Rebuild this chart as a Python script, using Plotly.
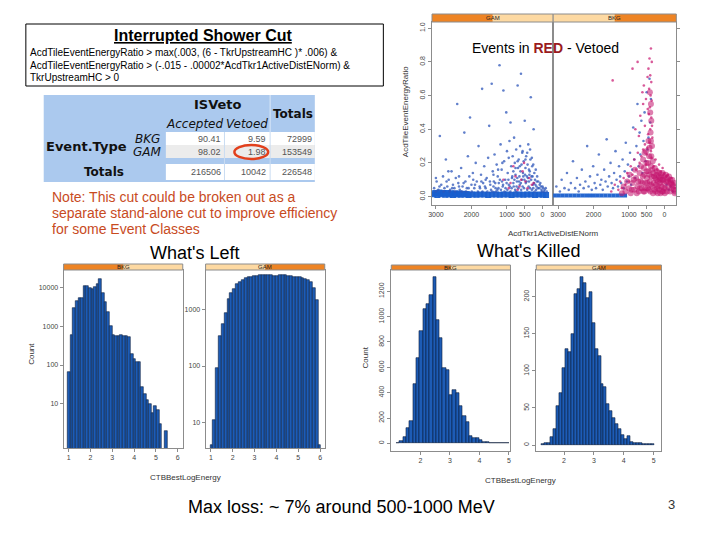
import plotly.graph_objects as go

W, H = 720, 540
def fx(x): return x / W
def fy(y): return 1 - y / H

# ---------------- data ----------------
event_types = ["BKG", "GAM"]
accepted_pct = [90.41, 98.02]
vetoed_pct = [9.59, 1.98]
type_totals = [72999, 153549]
column_totals = [216506, 10042, 226548]

cut_lines = [
    "AcdTileEventEnergyRatio > max(.003, (6 - TkrUpstreamHC )* .006) &",
    "AcdTileEventEnergyRatio > (-.015 - .00002*AcdTkr1ActiveDistENorm) &",
    "TkrUpstreamHC > 0",
]
note_lines = [
    "Note: This cut could be broken out as a",
    "separate stand-alone cut to improve efficiency",
    "for some Event Classes",
]

# "What's Left" histograms (log counts)
left_bkg_start, left_bkg_width = 0.955, 0.12
left_bkg_counts = [65, 590, 3000, 4470, 5130, 5400, 10800, 10400, 9300, 8900, 9800, 12000,
                   16600, 7200, 4200, 2240, 1020, 590, 565, 565, 590, 565, 545, 515, 192, 142,
                   122, 117, 27, 18, 13, 10, 6, 9, 7, 3, None, 2]
left_gam_start, left_gam_width = 0.97, 0.13
left_gam_counts = [4, 11, 91, 347, 570, 870, 1570, 1970, 2330, 2890, 3180, 3460, 3670, 3780,
                   3890, 4000, 4000, 4100, 4220, 4220, 4100, 4100, 4000, 4000, 4100, 4220, 4100,
                   4000, 4000, 3890, 3890, 3780, 3670, 3560, 3460, 3100, 2500, 1530, 4]

# "What's Killed" histograms
killed_bkg_start, killed_bkg_width = 1.18, 0.1125
killed_bkg_counts = [5, 18, 53, 118, 176, 468, 676, 887, 1061, 1097, 1171, 1316, 974, 834, 597,
                     579, 382, 421, 395, 297, 216, 171, 61, 45, 39, 26, 13, 8, 5, 5, 4, 4, 3, 2]
killed_gam_start, killed_gam_width = 1.23, 0.10
killed_gam_counts = [1, 3, 3, 11, 22, 52, 70, 104, 129, 125, 150, 204, 211, 227, 218, 198, 207,
                     164, 129, 120, 82, 78, 55, 46, 36, 29, 21, 14, 8, 12, 4, 3, 3, 3, 2, 2, 2, 1]

# scatter: AcdTkr1ActiveDistENorm vs AcdTileEventEnergyRatio
gam_band = [(3080, .014), (3020, .022), (2960, .010), (2900, .024), (2850, .014), (2790, .022),
            (2740, .011), (2680, .021), (2630, .013), (2570, .020), (2520, .010), (2460, .019),
            (2410, .012), (2350, .018), (2300, .011), (2240, .017), (2190, .013), (2130, .016),
            (2080, .010), (1970, .012), (1860, .011), (1750, .013), (1640, .012), (1530, .010),
            (1420, .013), (1310, .012), (1200, .011), (1090, .013), (980, .012), (870, .010),
            (760, .013), (650, .012), (540, .011), (430, .013), (320, .012), (210, .010),
            (100, .012), (-10, .011), (-100, .010)]
gam_accepted = [
    (3050, .05), (2980, .09), (2930, .04), (2890, .36), (2850, .07), (2800, .12), (2760, .05),
    (2720, .22), (2680, .06), (2640, .10), (2600, .04), (2560, .15), (2520, .07), (2480, .05),
    (2440, .11), (2400, .55), (2370, .08), (2330, .04), (2290, .17), (2250, .06), (2200, .38),
    (2170, .09), (2130, .05), (2100, .24), (2060, .12), (2040, .47), (2000, .07), (1960, .14),
    (1920, .05), (1880, .20), (1850, .09), (1800, .30), (1770, .06), (1730, .13), (1700, .64),
    (1670, .08), (1640, .18), (1600, .05), (1570, .11), (1530, .23), (1500, .42), (1470, .07),
    (1430, .67), (1400, .15), (1370, .09), (1350, .25), (1320, .05), (1290, .19), (1260, .12),
    (1230, .08), (1210, .78), (1180, .31), (1150, .16), (1120, .06), (1100, .63), (1080, .21),
    (1050, .10), (1020, .50), (1000, .27), (980, .14), (950, .07), (930, .33), (900, .44),
    (880, .18), (860, .11), (840, .24), (810, .06), (800, .35), (780, .20), (760, .13),
    (740, .28), (720, .09), (700, .66), (690, .17), (670, .22), (650, .12), (630, .30),
    (610, .08), (606, .73), (590, .19), (570, .26), (550, .14), (530, .21), (510, .10),
    (500, .45), (480, .17), (460, .24), (440, .12), (420, .19), (400, .31), (380, .09),
    (360, .15), (340, .22), (330, .59), (310, .12), (290, .18), (270, .07), (250, .40),
    (230, .14), (210, .10), (190, .16), (170, .06), (150, .12), (120, .09), (90, .05),
    (60, .08), (30, .04), (0, .06), (-40, .03), (-90, .05),
    (1450, .04), (1380, .06), (1310, .03), (1240, .05), (1170, .04), (1110, .07), (1040, .05),
    (990, .04), (920, .06), (870, .05), (820, .08), (770, .04), (730, .06), (680, .05),
    (640, .07), (600, .04), (560, .06), (520, .05), (470, .08), (430, .04), (390, .06),
    (350, .05), (300, .04), (260, .05), (220, .03), (180, .04),
    (3000, .03), (2900, .06), (2780, .03), (2700, .09), (2610, .03), (2540, .05), (2460, .03),
    (2350, .06), (2270, .03), (2220, .08), (2150, .03), (2080, .05), (1990, .03), (1900, .07),
    (1820, .03), (1760, .05), (1690, .03), (1620, .06), (1550, .03), (1480, .09), (1410, .03),
    (1330, .08), (1270, .04), (1200, .10), (1140, .09), (1070, .03), (1010, .08), (960, .10),
    (900, .03), (850, .12), (790, .10), (750, .03), (710, .11), (660, .09), (620, .15),
    (580, .10), (540, .12), (490, .13), (450, .09), (410, .11), (370, .13), (320, .10),
    (280, .12), (240, .08), (200, .07), (160, .09), (130, .05), (80, .07), (40, .06),
    (10, .03), (-20, .05), (-60, .04), (-120, .03), (700, .21), (760, .17), (820, .15),
    (1130, .20), (950, .23), (640, .18), (560, .27), (480, .22), (430, .26), (380, .16),
    (350, .28), (300, .23), (260, .19), (1250, .16), (1380, .13), (1600, .10), (1720, .09),
    (1950, .10), (2350, .12), (2650, .15), (3000, .11)]
gam_vetoed = [(900, .08), (760, .12), (650, .06), (560, .15), (480, .09), (420, .05), (370, .11),
              (300, .07), (1100, .10), (820, .18), (700, .04), (520, .20), (250, .08), (600, .10),
              (950, .05)]

bkg_band = [(3090, .006), (2980, .006), (2870, .007), (2760, .006), (2650, .006), (2540, .007),
            (2430, .006), (2320, .006), (2210, .007), (2100, .006), (1990, .006), (1880, .007),
            (1770, .006), (1660, .006), (1550, .007), (1440, .006), (1330, .006), (1220, .007),
            (1110, .006)]
bkg_accepted = [
    (3050, .06), (2950, .03), (2900, .10), (2820, .05), (2750, .14), (2700, .04), (2640, .08),
    (2580, .21), (2520, .05), (2470, .11), (2420, .03), (2380, .07), (2330, .16), (2280, .05),
    (2230, .09), (2180, .30), (2140, .06), (2100, .12), (2050, .04), (2010, .18), (1970, .08),
    (1930, .05), (1890, .13), (1850, .25), (1810, .07), (1780, .10), (1740, .04), (1700, .16),
    (1660, .09), (1630, .34), (1600, .06), (1560, .12), (1520, .20), (1490, .08), (1450, .05),
    (1420, .14), (1380, .27), (1350, .10), (1310, .06), (1280, .18), (1250, .12), (1220, .08),
    (1180, .22), (1150, .05), (1120, .15), (1090, .32), (1060, .09), (1030, .19), (1000, .12),
    (970, .26), (940, .07), (910, .16), (880, .41), (850, .22), (820, .11), (790, .30),
    (760, .55), (730, .18), (700, .38), (680, .25), (650, .45), (620, .14), (590, .33),
    (560, .50), (530, .21), (500, .62), (480, .28), (450, .35), (420, .70), (400, .44),
    (380, .58), (-120, .04), (-180, .06), (-240, .03), (-60, .07)]
bkg_vetoed_core = [
    (1100, .03), (1000, .05), (950, .02), (900, .08), (850, .04), (800, .11), (760, .06),
    (720, .03), (700, .14), (670, .09), (640, .05), (610, .12), (580, .17), (560, .03),
    (540, .08), (510, .20), (490, .11), (470, .05), (450, .15), (430, .24), (410, .09),
    (400, .03), (380, .18), (360, .12), (350, .30), (340, .06), (330, .21), (310, .14),
    (300, .08), (280, .04), (260, .11), (240, .07), (220, .13), (200, .05), (180, .09),
    (160, .12), (140, .04), (120, .08), (100, .11), (80, .06), (60, .10), (40, .03),
    (20, .08), (0, .12), (-20, .05), (-50, .09), (-80, .11), (-110, .06), (-140, .08),
    (-170, .10), (-200, .05), (-230, .07), (-260, .04), (-290, .02), (600, .22), (520, .27),
    (450, .33), (390, .38), (370, .45),
    (1200, .02), (1150, .06), (1050, .09), (980, .13), (920, .04), (870, .10), (830, .16),
    (780, .02), (740, .09), (690, .05), (660, .18), (620, .08), (590, .03), (570, .13),
    (530, .05), (500, .15), (480, .08), (460, .20), (440, .04), (420, .13), (390, .07),
    (370, .24), (345, .16), (320, .02), (290, .12), (270, .17), (250, .03), (230, .10),
    (210, .15), (190, .02), (170, .06), (150, .14), (130, .10), (110, .02), (90, .13),
    (70, .03), (50, .14), (30, .10), (10, .05), (-10, .02), (-40, .13), (-70, .03),
    (-100, .09), (-130, .12), (-160, .03), (-190, .08), (-220, .10), (-250, .06),
    (-280, .08), (-300, .03), (560, .26), (420, .29), (380, .33), (400, .50), (380, .55),
    (410, .62)]
bkg_vetoed = [
    (380, .88), (420, .82), (356, .80), (450, .76), (400, .72), (370, .68), (430, .64),
    (390, .60), (360, .57), (410, .53), (440, .49), (370, .47), (350, .42), (400, .40),
    (460, .37), (340, .35), (420, .32), (480, .29), (380, .27), (500, .25), (360, .23),
    (520, .19), (550, .31), (600, .28), (650, .24), (700, .20), (750, .26), (800, .16),
    (850, .22), (900, .13), (950, .18), (1000, .09), (1050, .14), (1100, .07), (1150, .11),
    (1200, .05), (1250, .09), (1300, .04), (1400, .07), (1500, .03), (756, .80), (900, .76),
    (1460, .69), (476, .71), (600, .55), (680, .48), (550, .42), (720, .36), (620, .62),
    (520, .58), (470, .52), (820, .40), (580, .66), (300, .18), (250, .22), (200, .16),
    (150, .19), (100, .15), (50, .17), (0, .14), (-50, .12), (-100, .13), (-150, .10),
    (-200, .11), (-250, .08), (-300, .05)]

# ---------------- figure ----------------
FONT = "Liberation Sans"
BLUE_PT = "rgba(45,85,185,0.75)"
MAG_PT = "rgba(200,20,110,0.7)"
BAR = "#1d5cb6"
BAR_EDGE = "#0b1c3a"
FRAME = "#8c8c8c"
DARK_OR = "#ee8424"
LIGHT_OR = "#fdd9a2"

fig = go.Figure()

def pts(trace_pts, xa, ya, color, size, symbol="circle"):
    xs = [p[0] for p in trace_pts]
    ys = [p[1] for p in trace_pts]
    fig.add_trace(go.Scatter(x=xs, y=ys, mode="markers", xaxis=xa, yaxis=ya,
                             marker=dict(color=color, size=size, symbol=symbol,
                                         line=dict(width=0)),
                             hoverinfo="skip"))

pts(gam_band, "x", "y", "rgba(25,95,205,0.95)", 6, "square")
pts(gam_accepted, "x", "y", BLUE_PT, 2.6)
pts(gam_vetoed, "x", "y", MAG_PT, 2.6)
pts(bkg_band, "x2", "y2", "rgba(25,95,205,0.95)", 4, "square")
pts(bkg_accepted, "x2", "y2", BLUE_PT, 2.6)
pts(bkg_vetoed_core, "x2", "y2", "rgba(195,20,110,0.55)", 6, "circle")
pts(bkg_vetoed, "x2", "y2", MAG_PT, 2.6)

def hist(start, width, counts, xa, ya):
    centers = [start + width * (i + 0.5) for i in range(len(counts))]
    fig.add_trace(go.Bar(x=centers, y=counts, width=width, xaxis=xa, yaxis=ya,
                         marker=dict(color=BAR, line=dict(color=BAR_EDGE, width=0.6)),
                         hoverinfo="skip"))

hist(left_bkg_start, left_bkg_width, left_bkg_counts, "x3", "y3")
hist(left_gam_start, left_gam_width, left_gam_counts, "x4", "y4")
hist(killed_bkg_start, killed_bkg_width, killed_bkg_counts, "x5", "y5")
hist(killed_gam_start, killed_gam_width, killed_gam_counts, "x6", "y6")

tickfont = dict(family=FONT, size=7, color="#444")
def axis(domain_px, rng, **kw):
    d = dict(domain=list(domain_px), range=rng, showline=True, mirror=True, linecolor=FRAME,
             linewidth=1, showgrid=False, zeroline=False, ticks="outside", ticklen=3,
             tickcolor=FRAME, tickfont=tickfont)
    d.update(kw)
    return d

def xdom(a, b): return (fx(a), fx(b))
def ydom(top, bottom): return (fy(bottom), fy(top))

sc_xt = [3000, 2000, 1000, 500, 0]
layout_axes = dict(
    xaxis=axis(xdom(431, 553), [3110, -300], anchor="y", tickvals=sc_xt),
    yaxis=axis(ydom(22, 205), [-0.05, 1.037], anchor="x", tickvals=[0, .2, .4, .6, .8, 1.0],
               ticktext=["0.0", "0.2", "0.4", "0.6", "0.8", "1.0"], tickangle=-90),
    xaxis2=axis(xdom(553, 677), [3140, -336], anchor="y2", tickvals=sc_xt),
    yaxis2=axis(ydom(22, 205), [-0.05, 1.037], anchor="x2", side="right",
                tickvals=[0, .2, .4, .6, .8, 1.0], showticklabels=False),
    xaxis3=axis(xdom(60, 180), [0.77, 6.23], anchor="y3", tickvals=[1, 2, 3, 4, 5, 6]),
    yaxis3=axis(ydom(270, 448), [-0.13, 4.44], type="log", anchor="x3",
                tickvals=[10, 100, 1000, 10000], ticktext=["10", "100", "1000", "10000"]),
    xaxis4=axis(xdom(203, 323), [0.76, 6.21], anchor="y4", tickvals=[1, 2, 3, 4, 5, 6]),
    yaxis4=axis(ydom(270, 448), [0.54, 3.71], type="log", anchor="x4",
                tickvals=[10, 100, 1000], ticktext=["10", "100", "1000"]),
    xaxis5=axis(xdom(390, 510), [1.01, 5.05], anchor="y5", tickvals=[2, 3, 4, 5]),
    yaxis5=axis(ydom(270, 451), [-60, 1368], anchor="x5",
                tickvals=[0, 200, 400, 600, 800, 1000, 1200], tickangle=-90),
    xaxis6=axis(xdom(536, 662), [1.07, 5.26], anchor="y6", tickvals=[2, 3, 4, 5]),
    yaxis6=axis(ydom(270, 451), [-8, 236], anchor="x6",
                tickvals=[0, 50, 100, 150, 200], tickangle=-90),
)

shapes = []
annotations = []

def ann(x, y, text, size, color="#000", xanchor="center", yanchor="middle", family=FONT,
        angle=0):
    annotations.append(dict(x=fx(x), y=fy(y), xref="paper", yref="paper", text=text,
                            showarrow=False, xanchor=xanchor, yanchor=yanchor,
                            textangle=angle, borderpad=0,
                            font=dict(family=family, size=size, color=color)))

def rect(x0, y0, x1, y1, fill=None, line=None, lw=1, kind="rect"):
    shapes.append(dict(type=kind, xref="paper", yref="paper", x0=fx(x0), x1=fx(x1),
                       y0=fy(y1), y1=fy(y0),
                       fillcolor=fill if fill else "rgba(0,0,0,0)",
                       line=dict(color=line if line else "rgba(0,0,0,0)", width=lw if line else 0)))

# strips
strips = [
    (431, 553, 14, 22, "GAM", "left"),
    (553, 677, 14, 22, "BKG", "right"),
    (60, 180, 264, 270, "BKG", "left"),
    (203, 323, 264, 270, "GAM", "right"),
    (390, 510, 265, 270, "BKG", "left"),
    (536, 662, 265, 270, "GAM", "right"),
]
for x0, x1, y0, y1, lab, side in strips:
    rect(x0, y0, x1, y1, fill=LIGHT_OR)
    mid = (x0 + x1) / 2
    if side == "left":
        rect(x0, y0, mid, y1, fill=DARK_OR)
    else:
        rect(mid, y0, x1, y1, fill=DARK_OR)
    rect(x0, y0, x1, y1, line=FRAME, lw=1)
    ann(mid, (y0 + y1) / 2, lab, 6, "#222")

# cut text box
rect(22, 24, 382, 86, line="#000", lw=1)
ann(200, 36, "<u><b>Interrupted Shower Cut</b></u>", 16)
for i, line in enumerate(cut_lines):
    ann(25, 53 + 12.2 * i, line, 10, xanchor="left")

# table
TB = "#abc9ee"
rect(40, 95, 313, 182, fill=TB)
rect(163, 132, 313, 145, fill="#ffffff")
rect(163, 145, 313, 158, fill="#ececec")
rect(163, 164, 313, 180, fill="#ffffff")
for xv in (222, 268):
    shapes.append(dict(type="line", xref="paper", yref="paper", x0=fx(xv), x1=fx(xv),
                       y0=fy(180), y1=fy(132), line=dict(color="#c9dcf2", width=1)))
shapes.append(dict(type="line", xref="paper", yref="paper", x0=fx(268), x1=fx(268),
                   y0=fy(132), y1=fy(95), line=dict(color="#dbe8f7", width=1)))
TF = "DejaVu Sans"
ann(215, 105, "<b>ISVeto</b>", 13, "#111", family=TF)
ann(291, 114, "<b>Totals</b>", 12, "#111", family=TF)
ann(192, 124, "<i>Accepted</i>", 12, "#111", family=TF)
ann(245, 124, "<i>Vetoed</i>", 12, "#111", family=TF)
ann(83, 147, "<b>Event.Type</b>", 13, "#111", family=TF)
ann(101, 172, "<b>Totals</b>", 12, "#111", family=TF)
row_y = [138.5, 151.5]
for i, et in enumerate(event_types):
    ann(144, row_y[i], "<i>" + et + "</i>", 12, "#111", family=TF)
    ann(220, row_y[i], f"{accepted_pct[i]:.2f}", 9, "#555", xanchor="right")
    ann(265, row_y[i], f"{vetoed_pct[i]:.2f}", 9, "#555", xanchor="right")
    ann(311, row_y[i], f"{type_totals[i]}", 9, "#555", xanchor="right")
for xr, v in zip((220, 265, 311), column_totals):
    ann(xr, 172, f"{v}", 9, "#555", xanchor="right")
rect(232, 145, 266, 159, line="#e2401c", lw=2.5, kind="circle")

# note
for i, line in enumerate(note_lines):
    ann(47, 197 + 16 * i, line, 14, "#c84b1e", xanchor="left")

# headings
ann(192, 253, "What's Left", 18)
ann(528, 251, "What's Killed", 18)
ann(545, 48, "Events in <b><span style='color:#9a1b1e'>RED</span></b> - Vetoed", 14, "#000")
ann(340, 507, "Max loss: ~ 7% around 500-1000 MeV", 18)
ann(672, 504, "3", 13, "#333")

# axis labels
ann(405, 112, "AcdTileEventEnergyRatio", 8, "#333", angle=-90)
ann(553, 233, "AcdTkr1ActiveDistENorm", 8, "#333")
ann(27, 354, "Count", 8, "#333", angle=-90)
ann(183, 477, "CTBBestLogEnergy", 8, "#333")
ann(364, 357, "Count", 8, "#333", angle=-90)
ann(520, 480, "CTBBestLogEnergy", 8, "#333")

fig.update_layout(
    width=W, height=H, margin=dict(l=0, r=0, t=0, b=0), autosize=False,
    paper_bgcolor="white", plot_bgcolor="white", showlegend=False,
    shapes=shapes, annotations=annotations, bargap=0, **layout_axes)

fig.write_html("out.html")
